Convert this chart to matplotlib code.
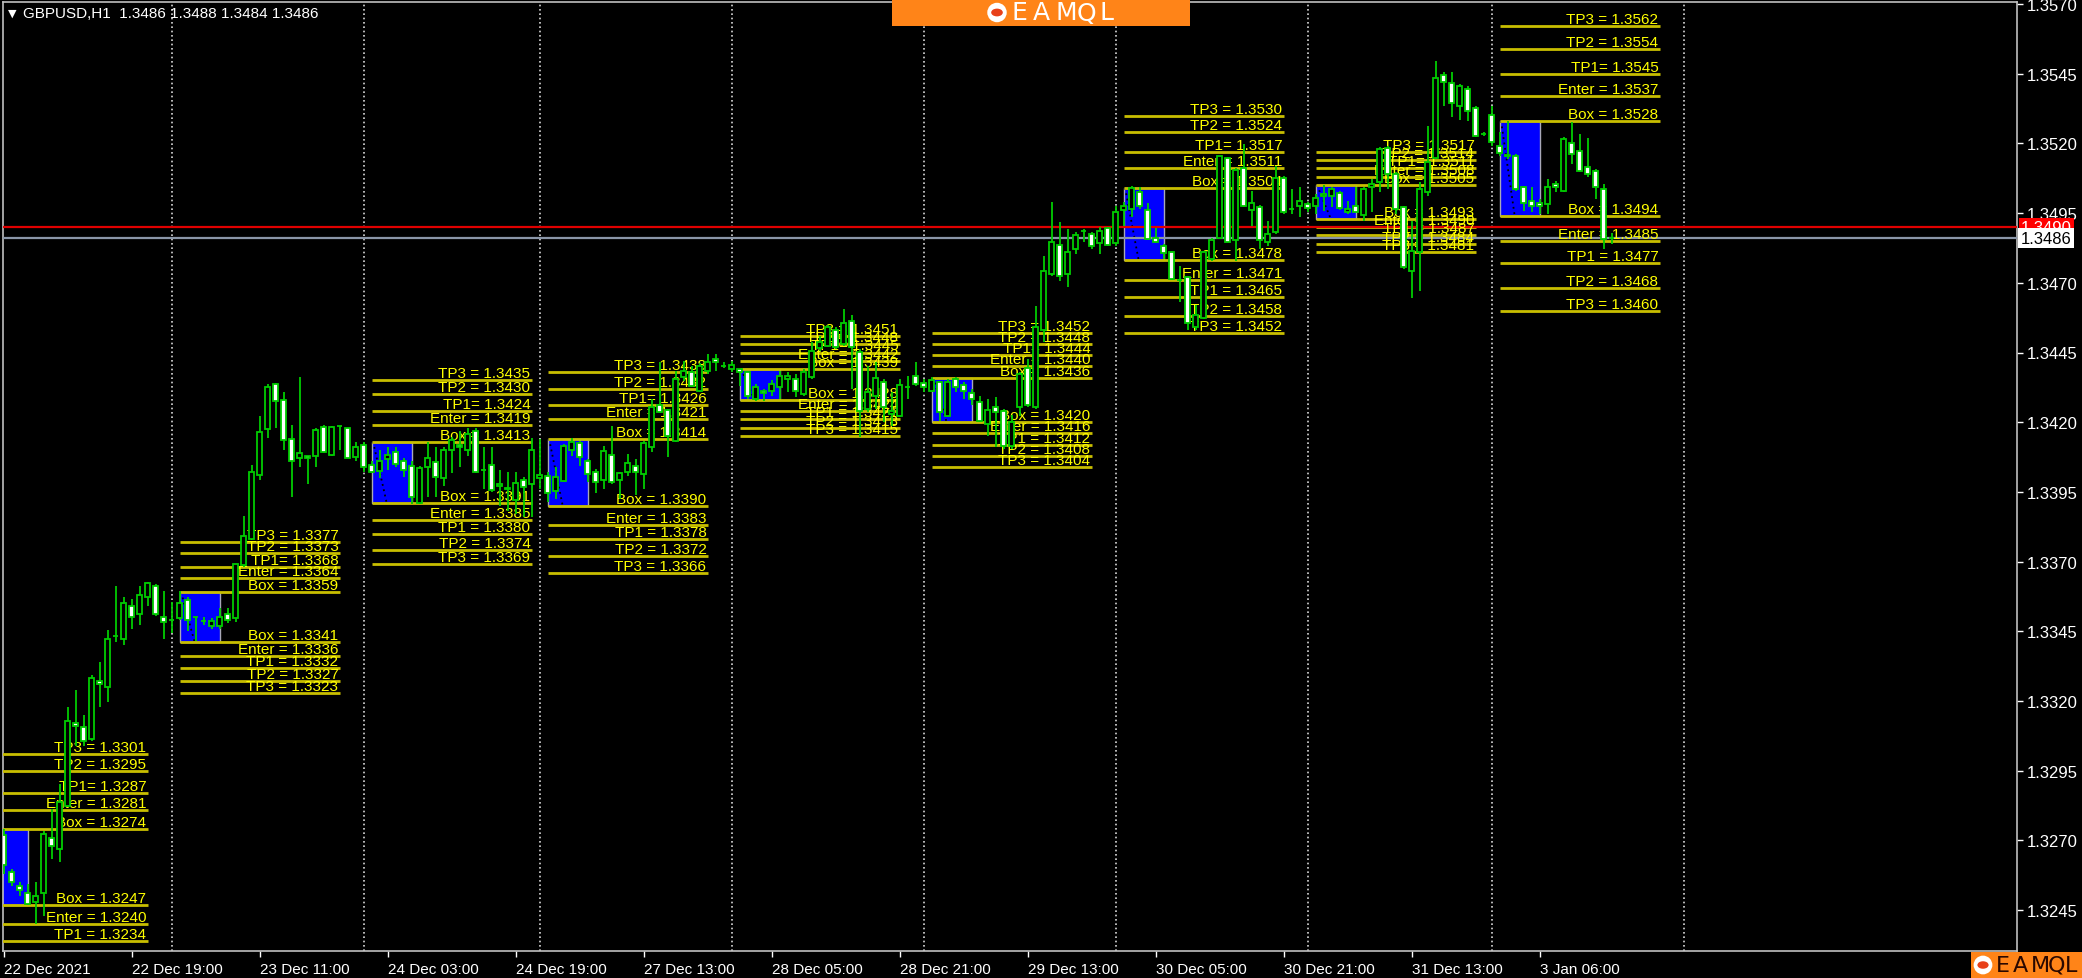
import numpy as np
import matplotlib.pyplot as plt
from matplotlib import font_manager
from matplotlib.patches import Rectangle, Ellipse
from matplotlib.transforms import offset_copy

# H1 candles, bar 0 = 22 Dec 03:00
opens = [1.32720, 1.32588, 1.32537, 1.32510, 1.32480, 1.32510, 1.32709, 1.32670, 1.32824, 1.33120,
         1.33108, 1.33062, 1.33272, 1.33252, 1.33434, 1.33421, 1.33539, 1.33512, 1.33572, 1.33613,
         1.33501, 1.33491, 1.33498, 1.33563, 1.33501, 1.33487, 1.33470, 1.33468, 1.33512, 1.33498,
         1.33688, 1.33782, 1.34012, 1.34175, 1.34337, 1.34280, 1.34140, 1.34070, 1.34080, 1.34078,
         1.34182, 1.34082, 1.34186, 1.34178, 1.34076, 1.34118, 1.34047, 1.34026, 1.34068, 1.34092,
         1.34060, 1.34042, 1.33910, 1.34040, 1.34058, 1.34000, 1.34100, 1.34118, 1.34100, 1.34170,
         1.34030, 1.34046, 1.33970, 1.33960, 1.33920, 1.33992, 1.33978, 1.34000, 1.34006, 1.33952,
         1.33990, 1.34100, 1.34126, 1.34062, 1.34023, 1.33991, 1.34084, 1.33994, 1.34020, 1.34044,
         1.34014, 1.34110, 1.34263, 1.34242, 1.34134, 1.34361, 1.34379, 1.34313, 1.34385, 1.34425,
         1.34403, 1.34391, 1.34391, 1.34381, 1.34283, 1.34313, 1.34313, 1.34325, 1.34355, 1.34355,
         1.34301, 1.34361, 1.34465, 1.34474, 1.34532, 1.34480, 1.34564, 1.34453, 1.34247, 1.34293,
         1.34343, 1.34229, 1.34223, 1.34325, 1.34365, 1.34341, 1.34313, 1.34343, 1.34223, 1.34355,
         1.34335, 1.34305, 1.34274, 1.34194, 1.34253, 1.34241, 1.34116, 1.34253, 1.34393, 1.34253,
         1.34530, 1.34731, 1.34835, 1.34731, 1.34821, 1.34885, 1.34875, 1.34843, 1.34895, 1.34843,
         1.34962, 1.34965, 1.35025, 1.34962, 1.34862, 1.34833, 1.34812, 1.34711, 1.34720, 1.34540,
         1.34573, 1.34785, 1.34859, 1.35146, 1.34855, 1.35110, 1.34962, 1.34973, 1.34845, 1.34881,
         1.35075, 1.34965, 1.34977, 1.34983, 1.34977, 1.35012, 1.35013, 1.35022, 1.34955, 1.34974,
         1.34943, 1.35042, 1.35060, 1.35182, 1.35090, 1.34971, 1.34744, 1.34809, 1.35025, 1.35146,
         1.35445, 1.35417, 1.35335, 1.35395, 1.35326, 1.35234, 1.35302, 1.35192, 1.35154, 1.35154,
         1.35042, 1.34995, 1.34985, 1.34983, 1.35054, 1.35030, 1.35202, 1.35174, 1.35114, 1.35102,
         1.35036, 1.34860]
highs = [1.32740, 1.32598, 1.32550, 1.32544, 1.32550, 1.32733, 1.32814, 1.32902, 1.33180, 1.33241,
         1.33149, 1.33295, 1.33340, 1.33453, 1.33613, 1.33572, 1.33566, 1.33613, 1.33627, 1.33620,
         1.33593, 1.33555, 1.33593, 1.33572, 1.33501, 1.33501, 1.33498, 1.33532, 1.33532, 1.33692,
         1.33864, 1.34046, 1.34222, 1.34337, 1.34340, 1.34310, 1.34190, 1.34362, 1.34080, 1.34180,
         1.34190, 1.34186, 1.34186, 1.34180, 1.34130, 1.34130, 1.34060, 1.34100, 1.34112, 1.34110,
         1.34070, 1.34060, 1.34042, 1.34130, 1.34112, 1.34112, 1.34148, 1.34170, 1.34180, 1.34180,
         1.34110, 1.34110, 1.34030, 1.34020, 1.34020, 1.34004, 1.34142, 1.34140, 1.34023, 1.34038,
         1.34122, 1.34142, 1.34134, 1.34068, 1.34032, 1.34116, 1.34185, 1.34023, 1.34086, 1.34068,
         1.34134, 1.34283, 1.34415, 1.34248, 1.34385, 1.34421, 1.34400, 1.34413, 1.34445, 1.34445,
         1.34415, 1.34421, 1.34391, 1.34385, 1.34337, 1.34319, 1.34353, 1.34385, 1.34379, 1.34373,
         1.34391, 1.34487, 1.34510, 1.34548, 1.34540, 1.34606, 1.34584, 1.34462, 1.34403, 1.34415,
         1.34355, 1.34307, 1.34355, 1.34367, 1.34415, 1.34355, 1.34361, 1.34349, 1.34355, 1.34361,
         1.34345, 1.34319, 1.34293, 1.34285, 1.34289, 1.34247, 1.34225, 1.34379, 1.34427, 1.34618,
         1.34797, 1.34989, 1.34917, 1.34893, 1.34881, 1.34893, 1.34883, 1.34899, 1.34899, 1.34977,
         1.34989, 1.35046, 1.35042, 1.34986, 1.34895, 1.34839, 1.34815, 1.34761, 1.34726, 1.34620,
         1.34815, 1.34859, 1.35156, 1.35150, 1.35110, 1.35198, 1.35031, 1.34979, 1.34923, 1.35120,
         1.35082, 1.35037, 1.35042, 1.34989, 1.35018, 1.35051, 1.35042, 1.35030, 1.34995, 1.35042,
         1.35042, 1.35072, 1.35186, 1.35192, 1.35096, 1.34977, 1.34923, 1.35060, 1.35264, 1.35497,
         1.35455, 1.35455, 1.35413, 1.35407, 1.35335, 1.35240, 1.35335, 1.35242, 1.35282, 1.35162,
         1.35048, 1.35042, 1.35001, 1.35072, 1.35066, 1.35222, 1.35276, 1.35234, 1.35218, 1.35108,
         1.35054, 1.34880]
lows = [1.32580, 1.32537, 1.32499, 1.32469, 1.32400, 1.32429, 1.32632, 1.32621, 1.32821, 1.33038,
        1.33038, 1.33058, 1.33180, 1.33198, 1.33410, 1.33401, 1.33460, 1.33471, 1.33539, 1.33505,
        1.33421, 1.33444, 1.33491, 1.33450, 1.33417, 1.33474, 1.33460, 1.33457, 1.33478, 1.33482,
        1.33681, 1.33782, 1.33992, 1.34145, 1.34180, 1.34100, 1.33930, 1.34040, 1.33980, 1.34040,
        1.34090, 1.34080, 1.34100, 1.34070, 1.34060, 1.34020, 1.34016, 1.34000, 1.34030, 1.34040,
        1.34004, 1.33908, 1.33908, 1.33930, 1.33930, 1.33970, 1.34016, 1.34040, 1.34080, 1.34016,
        1.33960, 1.33950, 1.33900, 1.33880, 1.33870, 1.33860, 1.33860, 1.33960, 1.33913, 1.33925,
        1.33984, 1.34080, 1.34044, 1.33985, 1.33946, 1.33961, 1.33979, 1.33925, 1.34008, 1.33940,
        1.33960, 1.34092, 1.34233, 1.34074, 1.34128, 1.34349, 1.34325, 1.34307, 1.34373, 1.34385,
        1.34395, 1.34379, 1.34330, 1.34283, 1.34277, 1.34277, 1.34295, 1.34283, 1.34307, 1.34289,
        1.34295, 1.34355, 1.34457, 1.34468, 1.34462, 1.34474, 1.34319, 1.34146, 1.34235, 1.34247,
        1.34200, 1.34188, 1.34217, 1.34283, 1.34331, 1.34307, 1.34307, 1.34206, 1.34217, 1.34307,
        1.34283, 1.34262, 1.34200, 1.34152, 1.34110, 1.34104, 1.34104, 1.34223, 1.34253, 1.34247,
        1.34486, 1.34725, 1.34708, 1.34684, 1.34803, 1.34845, 1.34821, 1.34803, 1.34833, 1.34833,
        1.34905, 1.34935, 1.34965, 1.34855, 1.34843, 1.34785, 1.34711, 1.34632, 1.34532, 1.34532,
        1.34571, 1.34779, 1.34857, 1.34845, 1.34779, 1.34971, 1.34905, 1.34821, 1.34831, 1.34875,
        1.34947, 1.34947, 1.34935, 1.34953, 1.34947, 1.34959, 1.34971, 1.34962, 1.34947, 1.34953,
        1.34923, 1.34953, 1.35025, 1.35036, 1.34947, 1.34750, 1.34644, 1.34672, 1.35013, 1.35144,
        1.35335, 1.35293, 1.35285, 1.35282, 1.35222, 1.35228, 1.35192, 1.35156, 1.35144, 1.35030,
        1.34959, 1.34953, 1.34947, 1.34947, 1.35024, 1.35024, 1.35126, 1.35096, 1.35078, 1.34999,
        1.34821, 1.34840]
closes = [1.32610, 1.32550, 1.32521, 1.32473, 1.32500, 1.32724, 1.32679, 1.32837, 1.33130, 1.33110,
          1.33058, 1.33281, 1.33261, 1.33421, 1.33434, 1.33552, 1.33501, 1.33579, 1.33623, 1.33512,
          1.33484, 1.33491, 1.33552, 1.33491, 1.33501, 1.33487, 1.33487, 1.33502, 1.33491, 1.33692,
          1.33793, 1.34023, 1.34164, 1.34327, 1.34276, 1.34136, 1.34062, 1.34090, 1.34070, 1.34172,
          1.34094, 1.34182, 1.34186, 1.34070, 1.34110, 1.34040, 1.34020, 1.34062, 1.34084, 1.34050,
          1.34030, 1.33930, 1.34034, 1.34070, 1.34004, 1.34100, 1.34136, 1.34110, 1.34156, 1.34022,
          1.34030, 1.33958, 1.33980, 1.33965, 1.33982, 1.33968, 1.34102, 1.34010, 1.33946, 1.34002,
          1.34114, 1.34130, 1.34074, 1.34014, 1.33985, 1.34096, 1.33985, 1.34018, 1.34053, 1.34023,
          1.34126, 1.34254, 1.34238, 1.34152, 1.34355, 1.34385, 1.34331, 1.34403, 1.34417, 1.34415,
          1.34403, 1.34405, 1.34379, 1.34293, 1.34325, 1.34305, 1.34337, 1.34365, 1.34367, 1.34313,
          1.34379, 1.34457, 1.34486, 1.34540, 1.34468, 1.34556, 1.34468, 1.34241, 1.34307, 1.34357,
          1.34253, 1.34241, 1.34333, 1.34325, 1.34337, 1.34325, 1.34353, 1.34235, 1.34343, 1.34325,
          1.34313, 1.34285, 1.34205, 1.34245, 1.34235, 1.34113, 1.34200, 1.34373, 1.34262, 1.34540,
          1.34743, 1.34845, 1.34723, 1.34812, 1.34871, 1.34885, 1.34833, 1.34887, 1.34836, 1.34955,
          1.34977, 1.35039, 1.34977, 1.34857, 1.34845, 1.34807, 1.34714, 1.34711, 1.34556, 1.34585,
          1.34809, 1.34855, 1.35154, 1.34848, 1.35106, 1.34977, 1.34986, 1.34855, 1.34875, 1.35075,
          1.34953, 1.34965, 1.34995, 1.34967, 1.35003, 1.35019, 1.35036, 1.34967, 1.34965, 1.34955,
          1.35036, 1.35054, 1.35180, 1.35090, 1.34965, 1.34756, 1.34815, 1.35036, 1.35134, 1.35433,
          1.35421, 1.35345, 1.35405, 1.35317, 1.35228, 1.35234, 1.35206, 1.35166, 1.35160, 1.35036,
          1.34986, 1.34977, 1.34977, 1.35042, 1.35042, 1.35216, 1.35162, 1.35102, 1.35090, 1.35042,
          1.34857, 1.34860]

# bottom axis labels (every 16 bars) and day separators
tick_bars = [0, 16, 32, 48, 64, 80, 96, 112, 128, 144, 160, 176, 192]
tick_labels = ['22 Dec 2021', '22 Dec 19:00', '23 Dec 11:00', '24 Dec 03:00', '24 Dec 19:00',
               '27 Dec 13:00', '28 Dec 05:00', '28 Dec 21:00', '29 Dec 13:00', '30 Dec 05:00',
               '30 Dec 21:00', '31 Dec 13:00', '3 Jan 06:00']
separator_bars = [21, 45, 67, 91, 115, 139, 163, 186, 210]

# breakout boxes
box_start = [-2, 22, 46, 68, 92, 116, 140, 164, 187]
box_top = [1.3274, 1.3359, 1.3413, 1.3414, 1.3439, 1.3436, 1.3504, 1.3505, 1.3528]
box_bottom = [1.3247, 1.3341, 1.3391, 1.3390, 1.3428, 1.3420, 1.3478, 1.3493, 1.3494]
# Enter, TP1, TP2, TP3 above and below each box
upper_levels = [[1.3281, 1.3287, 1.3295, 1.3301], [1.3364, 1.3368, 1.3373, 1.3377],
                [1.3419, 1.3424, 1.3430, 1.3435], [1.3421, 1.3426, 1.3432, 1.3438],
                [1.3442, 1.3445, 1.3448, 1.3451], [1.3440, 1.3444, 1.3448, 1.3452],
                [1.3511, 1.3517, 1.3524, 1.3530], [1.3508, 1.3511, 1.3514, 1.3517],
                [1.3537, 1.3545, 1.3554, 1.3562]]
lower_levels = [[1.3240, 1.3234, 1.3226, 1.3220], [1.3336, 1.3332, 1.3327, 1.3323],
                [1.3385, 1.3380, 1.3374, 1.3369], [1.3383, 1.3378, 1.3372, 1.3366],
                [1.3424, 1.3421, 1.3418, 1.3415], [1.3416, 1.3412, 1.3408, 1.3404],
                [1.3471, 1.3465, 1.3458, 1.3452], [1.3490, 1.3487, 1.3484, 1.3481],
                [1.3485, 1.3477, 1.3468, 1.3460]]
upper_names = ['Enter = ', 'TP1= ', 'TP2 = ', 'TP3 = ']
lower_names = ['Enter = ', 'TP1 = ', 'TP2 = ', 'TP3 = ']

ask, bid = 1.3490, 1.3486
header = 'GBPUSD,H1  1.3486 1.3488 1.3484 1.3486'

installed = {f.name for f in font_manager.fontManager.ttflist}
if 'Liberation Sans Narrow' in installed:
    NARROW, NSIZE = 'Liberation Sans Narrow', 12.5
else:
    NARROW, NSIZE = 'Liberation Sans', 11
REG = 'Liberation Sans'

GREEN = '#00CC00'
LINE_YEL = '#C8BE00'
TEXT_YEL = '#FFFF00'
FRAME = '#C0C0C0'

W, H = 2082, 979
fig = plt.figure(figsize=(W / 100, H / 100), dpi=100, facecolor='black')
ax = fig.add_axes([3 / W, 27 / H, 2014 / W, 949 / H], facecolor='black')

ax.set_xlim(-0.0625, -0.0625 + 2014 / 8)
ax.set_ylim(1.3570 - 947 * 0.0025 / 69.7, 1.3570 + 2 * 0.0025 / 69.7)

# period separators
for b in separator_bars:
    ax.axvline(b, color='#D8D8D8', lw=1.2, ls=(0, (1, 1.6)), zorder=1)

# boxes, levels and labels
txt_tr = offset_copy(ax.transData, fig=fig, x=-1, y=3, units='dots')
for i, s in enumerate(box_start):
    top, bot = box_top[i], box_bottom[i]
    ax.add_patch(Rectangle((s, bot), 5, top - bot, facecolor='#0000FF',
                           edgecolor='#A8A8B8', lw=1, zorder=2))
    ax.plot([s + 0.2, s + 1.9], [top, bot], color='black', ls=(0, (1, 2)), lw=1.3, zorder=2.5)
    items = [('Box = ', top)] + list(zip(upper_names, upper_levels[i])) \
        + [('Box = ', bot)] + list(zip(lower_names, lower_levels[i]))
    for name, lvl in items:
        ax.hlines(lvl, s, s + 20, color=LINE_YEL, lw=2, zorder=3)
        ax.text(s + 20, lvl, f'{name}{lvl:.4f}', transform=txt_tr, ha='right', va='baseline',
                color=TEXT_YEL, fontsize=NSIZE, family=[NARROW, 'DejaVu Sans'],
                zorder=4, clip_on=True)

# ask / bid lines
ax.axhline(ask, color='#E00000', lw=1.6, zorder=3.5)
ax.axhline(bid, color='#8A96A8', lw=1.6, zorder=3.5)

# candles
x = np.arange(len(opens))
o, hi, lo, c = map(np.array, (opens, highs, lows, closes))
bull = c >= o
ax.vlines(x, lo, hi, color=GREEN, lw=1.3, zorder=5)
body_lo = np.minimum(o, c)
body_h = np.maximum(np.abs(c - o), 1e-7)
ax.bar(x, body_h, bottom=body_lo, width=0.62, color=np.where(bull, 'black', 'white'),
       edgecolor=GREEN, linewidth=1.3, zorder=6)

# axes styling
for sp in ax.spines.values():
    sp.set_color(FRAME)
    sp.set_linewidth(1.2)
ax.yaxis.tick_right()
yt = np.round(np.arange(1.3245, 1.35701, 0.0025), 4)
ax.set_yticks(yt)
ax.set_yticklabels([f'{v:.4f}' for v in yt], color='white', fontsize=12, family=REG)
ax.tick_params(axis='y', colors='white', length=4, width=1, pad=3, labelcolor='white')
ax.set_xticks(tick_bars)
ax.set_xticklabels(tick_labels, color='white', fontsize=NSIZE, family=NARROW, ha='left')
ax.tick_params(axis='x', colors='white', length=4, width=1, pad=4, labelcolor='white')

# price markers on the scale
yax = ax.get_yaxis_transform()
ax.text(1.0018, ask, f'{ask:.4f}', transform=yax, ha='left', va='center', color='white',
        fontsize=12, family=REG, clip_on=False, zorder=10,
        bbox=dict(boxstyle='square,pad=0.12', fc='#FF0000', ec='none'))
ax.text(1.0018, bid, f'{bid:.4f}', transform=yax, ha='left', va='center', color='black',
        fontsize=12, family=REG, clip_on=False, zorder=11,
        bbox=dict(boxstyle='square,pad=0.15', fc='white', ec='none'))

# header
fig.text(8 / W, 1 - 14 / H, '\u25bc', color='white', fontsize=8, va='center', family='DejaVu Sans')
fig.text(23 / W, 1 - 14 / H, header, color='white', fontsize=NSIZE, va='center',
         family=[NARROW, 'DejaVu Sans'])

# logos
def logo(x0, y0, w, h, icon_x, text_x, text_w, size, tcolor):
    fig.add_artist(Rectangle((x0 / W, 1 - (y0 + h) / H), w / W, h / H,
                             transform=fig.transFigure, fc='#FF8418', ec='none', zorder=20))
    cy = 1 - (y0 + h / 2) / H
    r = h * 0.36
    fig.add_artist(Ellipse((icon_x / W, cy), 2 * r / W, 2 * r / H, transform=fig.transFigure,
                           fc='white', ec='none', zorder=21))
    fig.add_artist(Ellipse((icon_x / W, cy), 1.2 * r / W, 0.8 * r / H, transform=fig.transFigure,
                           fc='#E8401A', ec='none', zorder=22))
    for k, ch in enumerate('EAMQL'):
        fig.text((text_x + k * text_w / 5) / W, cy, ch, color=tcolor, fontsize=size,
                 va='center', ha='left', family='DejaVu Sans', zorder=23)

logo(892, 0, 298, 27, 997, 1011, 110, 18, 'white')
logo(1971, 953, 111, 26, 1983, 1996, 86, 16, '#2A0800')

fig.savefig('out.png', dpi=100, facecolor='black')
